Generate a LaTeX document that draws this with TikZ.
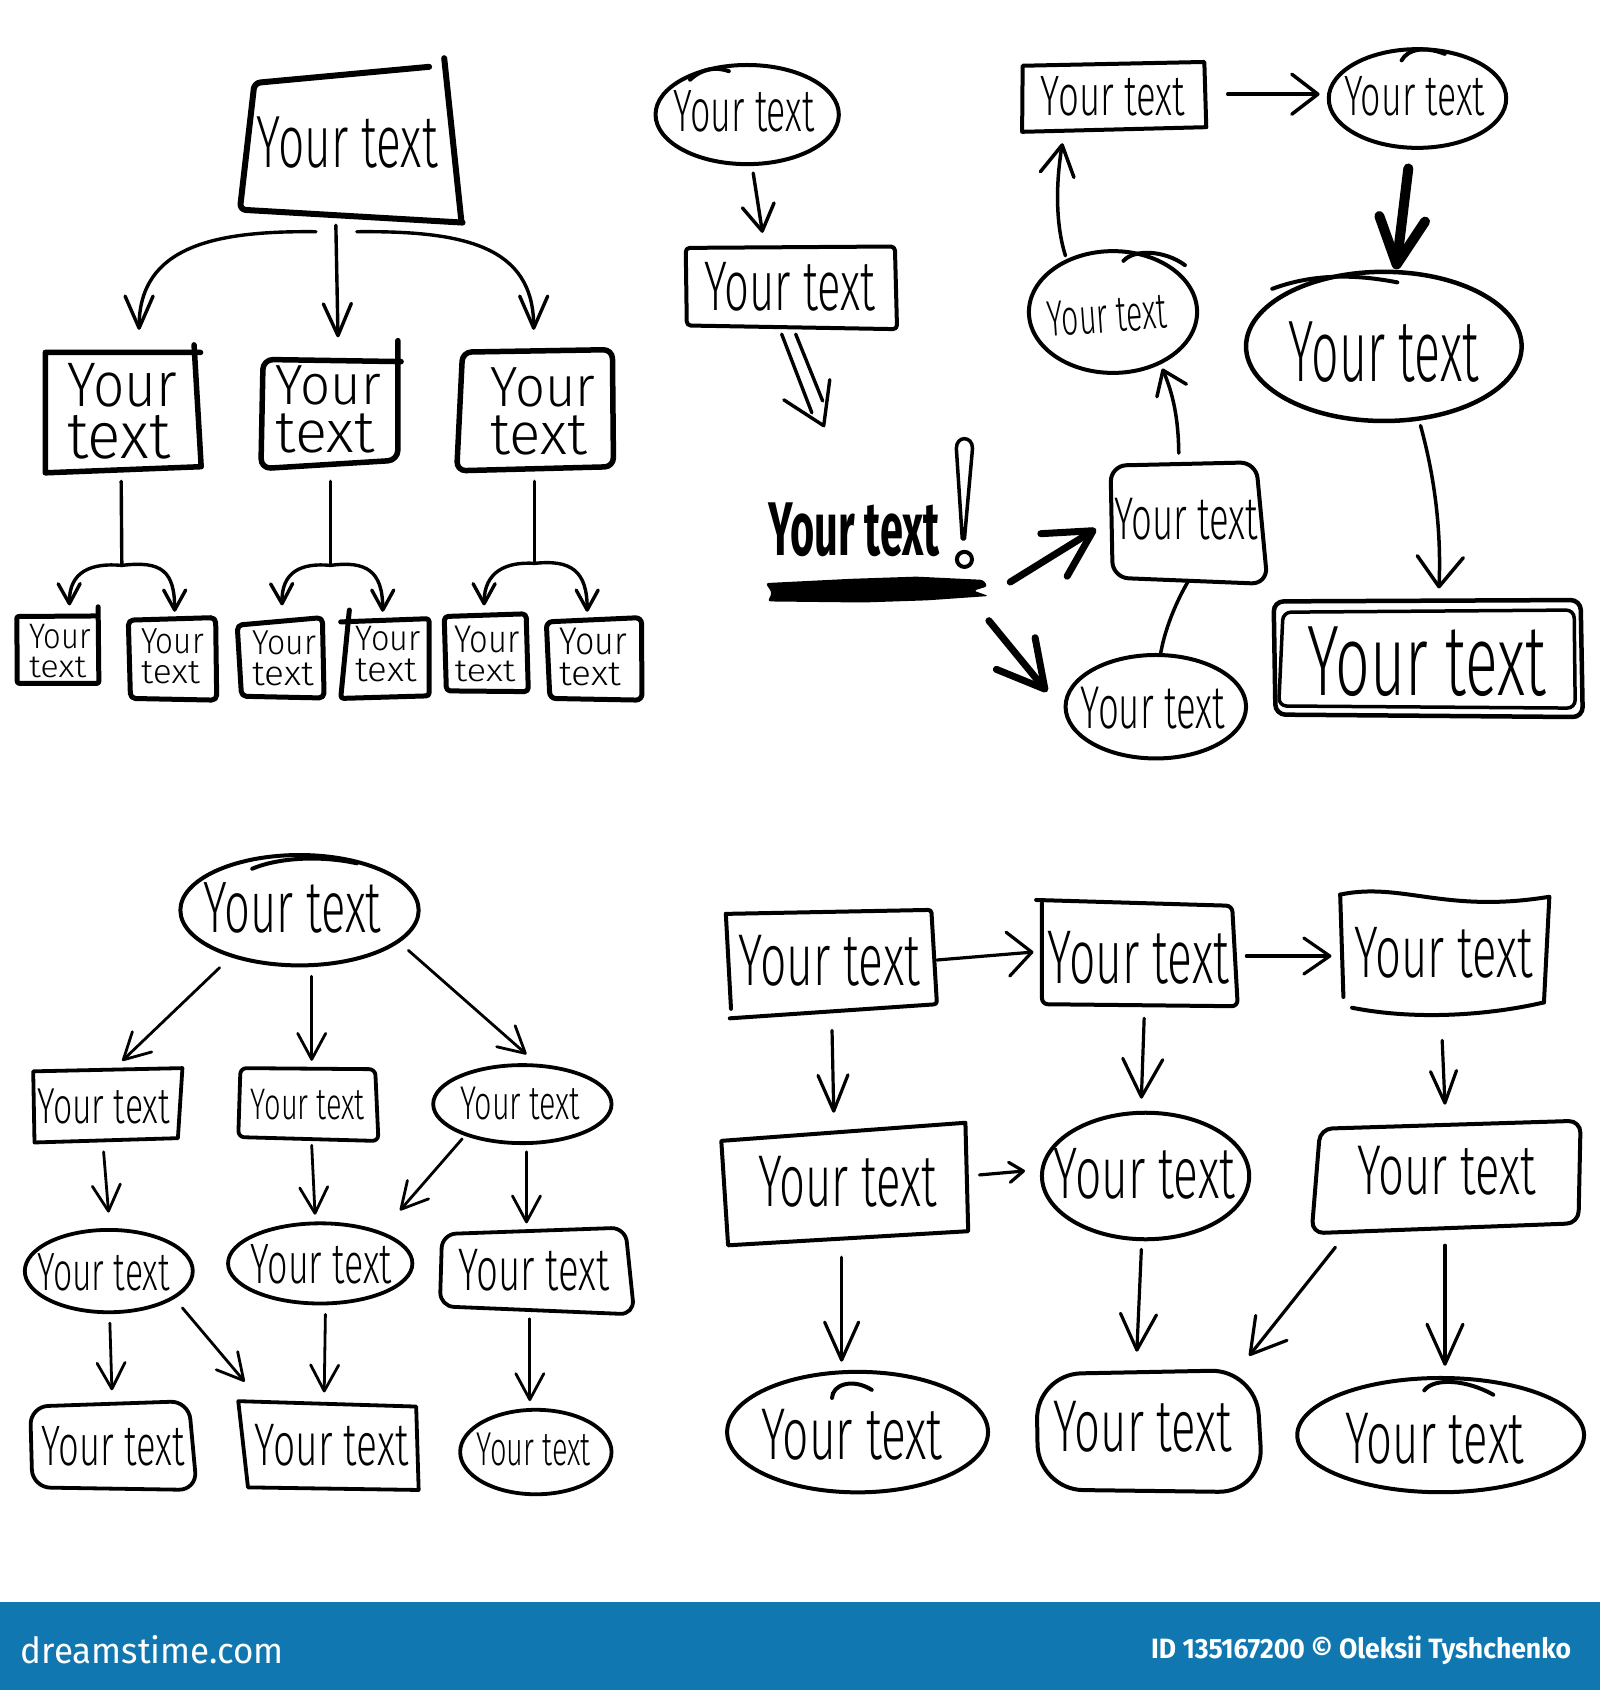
\documentclass[tikz,border=0pt]{standalone}
\usepackage{fontspec}
\usepackage{graphicx}
\usetikzlibrary{arrows.meta}
\IfFontExistsTF{Fira Sans Light}{\newfontfamily\hand{Fira Sans Light}}{\newfontfamily\hand{Fira Sans}}
\newfontfamily\footf{Fira Sans}
\definecolor{footblue}{RGB}{17,119,176}
\newdimen\unitpx \unitpx=1.078pt
\newcommand\lab[6]{\node[txt] (#1) at ({(#3+#5)/2},{(#4+#6)/2}) {\resizebox{\dimexpr#5\unitpx-#3\unitpx\relax}{\dimexpr#6\unitpx-#4\unitpx\relax}{#2}};}
\newcommand\yt[5]{\lab{#1}{Your text}{#2}{#3}{#4}{#5}}
\newcommand\twol[8]{\node[txt, anchor=north west] (#1) at (#2,#3) {\vbox{\offinterlineskip
  \hbox{\resizebox{\dimexpr#4\unitpx-#2\unitpx\relax}{\dimexpr#5\unitpx-#3\unitpx\relax}{Your}}%
  \kern\dimexpr#7\unitpx-#5\unitpx\relax
  \hbox{\resizebox{\dimexpr#6\unitpx-#2\unitpx\relax}{\dimexpr#8\unitpx-#7\unitpx\relax}{text}}}};}
\newcommand\cn[4]{\coordinate (#2s) at (#3); \coordinate (#2e) at (#4); \draw[#1] (#2s) -- (#2e);}
\newcommand\cc[6]{\coordinate (#2s) at (#3); \coordinate (#2e) at (#6); \draw[#1] (#2s) .. controls (#4) and (#5) .. (#2e);}
\tikzset{
  txt/.style={inner sep=0pt, outer sep=0pt, font=\hand},
  sk/.style={line width=#1, line cap=round, line join=round},
  hd/.style 2 args={-{Straight Barb[length=#1,width=#2,round]}},
}
\begin{document}
\begin{tikzpicture}[x=1.078167pt,y=-1.077806pt]
\useasboundingbox (0,0) rectangle (1484,1568);
\fill[white] (0,0) rectangle (1484,1568);

% ================= top-left =================
\draw[sk=6pt, rounded corners=6pt] (398,62) -- (236,77) -- (222.5,194.5) -- (429,206.5);
\draw[sk=6pt] (412,54) -- (428,206);
\yt{t0}{238}{109}{406}{156}
\cc{sk=3.4pt,hd={32pt}{28pt}}{ta}{293,215}{200,214}{129,228}{129,306}
\cn{sk=3.4pt,hd={32pt}{28pt}}{tb}{311.5,209}{313.5,313}
\cc{sk=3.4pt,hd={32pt}{28pt}}{tc}{331,215}{430,214}{495,228}{495,306}

\draw[sk=5.5pt] (186,327) -- (42,327) -- (42,438.7) -- (186.6,433) -- (180,320);
\draw[sk=5.5pt, rounded corners=10pt] (372,335.5) -- (244,333.5) -- (242,434.8) -- (369,427) -- (369,316);
\draw[sk=5.5pt, rounded corners=9pt] (429,326.7) -- (568,324.4) -- (569,433) -- (423.6,436.8) -- cycle;
\twol{b1}{62.5}{337}{164}{377}{158}{385}{425}
\twol{b2}{255.7}{339}{353}{375}{347.5}{383}{419}
\twol{b3}{455}{341}{552}{377}{544.6}{385}{421}

\cn{sk=3.4pt}{s1}{112.4,446.6}{113,524.6}
\cc{sk=3.4pt,hd={20pt}{22pt}}{s1l}{113,524.6}{85,522}{64,530}{64.4,561.7}
\cc{sk=3.4pt,hd={20pt}{22pt}}{s1r}{113,524.6}{150,520}{162,530}{162,567.6}
\cn{sk=3.4pt}{s2}{306.5,446.6}{306.5,524.6}
\cc{sk=3.4pt,hd={20pt}{22pt}}{s2l}{306.5,524.6}{280,522}{261,530}{261.6,561.7}
\cc{sk=3.4pt,hd={20pt}{22pt}}{s2r}{306.5,524.6}{340,520}{355,530}{355,567.6}
\cn{sk=3.4pt}{s3}{495.8,446.6}{495.8,522.7}
\cc{sk=3.4pt,hd={20pt}{22pt}}{s3l}{495.8,522.7}{470,521}{449,530}{449,561.7}
\cc{sk=3.4pt,hd={20pt}{22pt}}{s3r}{495.8,522.7}{530,519}{544.6,530}{544.6,567.6}

\draw[sk=5pt, rounded corners=2pt] (88,571.5) -- (15.6,572) -- (16,634) -- (91.7,634) -- (91,563);
\draw[sk=5pt, rounded corners=5pt] (119,575.4) -- (200,573) -- (201,649.6) -- (121,648) -- cycle;
\draw[sk=5pt, rounded corners=5pt] (220,580) -- (299,573) -- (300.6,647.6) -- (224,646) -- cycle;
\draw[sk=5pt, rounded corners=3pt] (324,566) -- (316,648) -- (398,645.6) -- (398,574) -- (316,577);
\draw[sk=5pt, rounded corners=4pt] (412,572) -- (488,569.5) -- (490,641.7) -- (414,641) -- cycle;
\draw[sk=5pt, rounded corners=6pt] (506.7,577) -- (595,573) -- (595.4,649.6) -- (510,648) -- cycle;
\twol{l1}{27}{579}{84}{601.5}{80}{609}{628}
\twol{l2}{131}{583}{189}{606}{185.4}{613.5}{634}
\twol{l3}{234}{585}{293}{607}{291}{615}{636}
\twol{l4}{330}{581}{390}{603.5}{386.5}{611}{632}
\twol{l5}{421.6}{581}{482}{605.5}{478}{613}{632}
\twol{l6}{519}{583}{581.7}{607.5}{576}{615}{636}

% ================= top-right =================
\draw[sk=4pt] (693,106.3) ellipse [x radius=85, y radius=46];
\draw[sk=4pt] (640,74) .. controls (652,63) and (664,62) .. (676,66);
\yt{e1}{624.8}{84}{755.4}{122}
\cn{sk=3.4pt,hd={26pt}{32pt}}{a1}{698.6,160.6}{707.2,216}
\draw[sk=4pt, rounded corners=4pt] (636,230) -- (830,228.7) -- (832,305.4) -- (637,302) -- cycle;
\yt{r1}{653}{243.7}{812}{288.4}
\coordinate (a2t) at (764,395);
\cn{sk=3.4pt}{a2p}{725,310}{753,383}
\cn{sk=3.4pt}{a2q}{738,310}{763,372}
\coordinate (a2l) at (727,371); \coordinate (a2r) at (769.6,352.3);
\draw[sk=3.4pt] (a2l) -- (a2t) -- (a2r);

\node[inner sep=0pt, font=\footf\bfseries] (bold) at ({(712.8+871.8)/2},{(467.3+516.2)/2})
  {\resizebox{\dimexpr871.8\unitpx-712.8\unitpx\relax}{\dimexpr516.2\unitpx-467.3\unitpx\relax}{Your text}};
\draw[sk=3.5pt] (887,416) .. controls (887,404) and (902,404) .. (902,416) -- (894.5,500) -- (892.5,500) -- cycle;
\draw[sk=4pt] (894.5,519) circle [radius=7];
\fill[rounded corners=3pt] (710,541) -- (790,537) -- (850,535) -- (912,538) -- (916,544) -- (903,548) -- (917,553) -- (860,557) -- (800,559) -- (712,558) -- (716,550) -- cycle;
\cn{sk=7pt,hd={46pt}{50pt}}{a3}{937,540}{1016.6,490.7}
\cn{sk=7pt,hd={46pt}{50pt}}{a4}{917.2,575.9}{971.2,641.9}

\draw[sk=4pt, rounded corners=16pt] (1030,432) -- (1165,428.9) -- (1175.6,541.8) -- (1032,536) -- cycle;
\yt{r2}{1033.6}{463}{1167}{501.3}
\cc{sk=3.5pt}{l23}{1101.8,539.7}{1090,560}{1080,585}{1076.2,607.8}
\draw[sk=4pt] (1072,655.7) ellipse [x radius=83.7, y radius=48];
\yt{e3}{1002.4}{637.6}{1136}{676}
\cc{sk=3.5pt,hd={22pt}{32pt}}{a5}{1093.3,420.4}{1093,395}{1090,370}{1078,342}
\draw[sk=4pt] (1032.3,289.5) ellipse [x radius=78, y radius=56.5];
\draw[sk=4pt] (1042,242) .. controls (1052,231) and (1080,232) .. (1099,246);
\node[txt, rotate=4] (e2) at ({(971.2+1081.9)/2},{(275.6+309.7)/2}) {\resizebox{\dimexpr110.7\unitpx\relax}{\dimexpr32\unitpx\relax}{Your text}};
\cc{sk=3.5pt,hd={30pt}{34pt}}{a6}{988.2,237.3}{978,205}{980,165}{985.4,132.9}
\draw[sk=4pt] (948.5,61) -- (1117,57.5) -- (1118.8,118) -- (948,122.3) -- cycle;
\yt{r3}{965.5}{71.2}{1099}{107.4}
\cn{sk=3.5pt,hd={26pt}{40pt}}{a7}{1138.7,87.4}{1223.9,87.4}
\draw[sk=4pt] (1314.7,91.4) ellipse [x radius=82.3, y radius=45.8];
\draw[sk=4pt] (1300,56) .. controls (1306,45) and (1322,43) .. (1340,50);
\yt{e4}{1246.6}{71.2}{1377}{107.4}
\cn{sk=10pt,hd={46pt}{46pt}}{a8}{1306.2,156.3}{1294.8,250}
\draw[sk=4.5pt] (1283.5,321.4) ellipse [x radius=127.8, y radius=69.2];
\draw[sk=4pt] (1180,268) .. controls (1220,253) and (1260,255) .. (1296,262);
\yt{e5}{1195.5}{299}{1371.5}{354.4}
\cc{sk=3.5pt,hd={30pt}{46pt}}{a9}{1317.5,394.8}{1330,440}{1337,490}{1334.6,546}
\draw[sk=4.5pt, rounded corners=10pt] (1181.3,558) -- (1466,556.7) -- (1468,665.3) -- (1183,663) -- cycle;
\draw[sk=3.5pt, rounded corners=8pt] (1190,568) -- (1460,566) -- (1461,657) -- (1186,655) -- cycle;
\yt{r4}{1212.5}{582.3}{1434}{646}

% ================= bottom-left =================
\draw[sk=4pt] (277.8,844.5) ellipse [x radius=110.5, y radius=51.2];
\draw[sk=4pt] (234,806) .. controls (260,795) and (300,794) .. (331,801);
\yt{te}{188.4}{819.3}{353.7}{865.6}
\cn{sk=2.8pt,hd={26pt}{28pt}}{ba}{203.8,897.7}{113.4,984.2}
\cn{sk=2.8pt,hd={26pt}{28pt}}{bb}{289.1,905.8}{289.1,984.2}
\cn{sk=2.8pt,hd={26pt}{28pt}}{bc}{378.7,881.7}{488.3,978.2}
\draw[sk=3.8pt] (30.8,994) -- (169.2,991) -- (165,1056) -- (32,1060) -- cycle;
\yt{ra}{34.6}{1010.4}{157.6}{1042.5}
\draw[sk=3.8pt, rounded corners=6pt] (223,991) -- (348,992) -- (351,1058.6) -- (221,1055) -- cycle;
\yt{rb}{232.6}{1010.4}{338.4}{1038.5}
\draw[sk=3.8pt] (484.5,1024.4) ellipse [x radius=82.7, y radius=36.2];
\yt{ec}{426.8}{1008.4}{538.3}{1038.5}
\cn{sk=2.8pt,hd={26pt}{28pt}}{bd}{96.1,1068.7}{100.7,1125}
\cn{sk=2.8pt,hd={26pt}{28pt}}{be}{289.1,1062.6}{292.2,1127}
\cn{sk=2.8pt,hd={26pt}{28pt}}{bf}{428.7,1056.6}{371,1123}
\cn{sk=2.8pt,hd={26pt}{28pt}}{bg}{488.3,1068.7}{488.3,1135}
\draw[sk=3.8pt] (100.9,1179.3) ellipse [x radius=77.9, y radius=38.2];
\yt{ed}{34.6}{1163.2}{157.6}{1197.4}
\draw[sk=3.8pt] (297,1172.2) ellipse [x radius=85.5, y radius=37.2];
\yt{ee}{232.6}{1155.2}{363.4}{1191.4}
\draw[sk=3.8pt, rounded corners=14pt] (410,1145) -- (580,1139) -- (588.3,1219.5) -- (408,1212) -- cycle;
\yt{rf}{424.9}{1159.2}{565.2}{1197.4}
\cn{sk=2.8pt,hd={26pt}{28pt}}{bh}{101.9,1227.6}{103.8,1289.9}
\cn{sk=2.8pt,hd={26pt}{28pt}}{bi}{169.2,1213.5}{226.9,1281.9}
\cn{sk=2.8pt,hd={26pt}{28pt}}{bj}{301.8,1219.5}{300.7,1291.9}
\cn{sk=2.8pt,hd={26pt}{28pt}}{bk}{491.4,1223.5}{491.4,1299.9}
\draw[sk=3.8pt, rounded corners=18pt] (28,1305) -- (175,1300) -- (182.6,1382.4) -- (30,1380) -- cycle;
\yt{rg}{38.5}{1324.1}{171.1}{1360.3}
\draw[sk=3.8pt] (221,1300) -- (386,1305) -- (388.3,1382.4) -- (230,1380) -- cycle;
\yt{rh}{236.5}{1322.1}{378.7}{1360.3}
\draw[sk=3.8pt] (497,1347.2) ellipse [x radius=70.2, y radius=39.2];
\yt{ei}{442.2}{1330.1}{547.9}{1360.3}

% ================= bottom-right =================
\draw[sk=4pt, rounded corners=3pt] (673.2,847.9) -- (863.8,844.2) -- (869,931.7) -- (676.9,944.8);
\draw[sk=4pt] (673.2,847.9) -- (678,936);
\yt{p1}{684.8}{868.4}{853.3}{915}
\draw[sk=4pt, rounded corners=6pt] (961,835) -- (1142.8,840.4) -- (1148,933.6) -- (966.4,931.7) -- (966.4,838);
\yt{p2}{971.7}{864.7}{1140.2}{913.1}
\draw[sk=4pt] (1243,830) .. controls (1300,818) and (1340,848) .. (1437,832) -- (1432,930);
\draw[sk=4pt] (1243,830) -- (1246,925);
\draw[sk=4pt] (1254,935) .. controls (1320,948) and (1390,940) .. (1432,930);
\yt{p3}{1256}{861}{1421.8}{907.5}
\cn{sk=3.2pt,hd={24pt}{44pt}}{pa}{869,890.7}{958.5,883.3}
\cn{sk=3.2pt,hd={26pt}{36pt}}{pb}{1156,887}{1234.9,887}
\cn{sk=3.2pt,hd={36pt}{30pt}}{pc}{771.7,956}{773.3,1032.4}
\cn{sk=3.2pt,hd={38pt}{40pt}}{pd}{1061.2,944.8}{1058.6,1019.3}
\cn{sk=3.2pt,hd={32pt}{26pt}}{pe}{1337.6,965.3}{1340.2,1024.9}
\draw[sk=4pt] (669,1058.5) -- (895.4,1041.7) -- (898,1142.3) -- (675.3,1155.4) -- cycle;
\yt{q1}{703.2}{1073.4}{869.1}{1120}
\cn{sk=3.2pt,hd={14pt}{20pt}}{qa}{908.5,1090.1}{950.7,1086.4}
\draw[sk=4pt] (1062.5,1091.1) ellipse [x radius=96.1, y radius=58.7];
\yt{q2}{977}{1066}{1145.4}{1112.5}
\draw[sk=4pt, rounded corners=12pt] (1224.4,1047.3) -- (1466,1039.8) -- (1464,1134.9) -- (1216.5,1144.2) -- cycle;
\yt{q3}{1258.6}{1064}{1424.4}{1108.8}
\cn{sk=3.2pt,hd={38pt}{34pt}}{qb}{780.6,1166.5}{780.6,1263.4}
\cn{sk=3.2pt,hd={36pt}{36pt}}{qc}{1058.6,1159.1}{1054.4,1254.1}
\cn{sk=3.2pt,hd={34pt}{40pt}}{qd}{1238.6,1157.2}{1158.6,1257.9}
\cn{sk=3.2pt,hd={40pt}{36pt}}{qe}{1340.2,1155.4}{1340.2,1267.2}
\draw[sk=4pt] (795.4,1328.7) ellipse [x radius=121, y radius=55.9];
\draw[sk=4pt] (771.7,1297) .. controls (772,1285) and (790,1278) .. (808.5,1289.5);
\yt{s1}{705.9}{1308.2}{874.3}{1354.8}
\draw[sk=4pt, rounded corners=45pt] (961.2,1275) -- (1165,1271) -- (1171.7,1384.6) -- (963,1382) -- cycle;
\yt{s2}{977}{1300.7}{1142.8}{1347.3}
\draw[sk=4pt] (1336.2,1331.5) ellipse [x radius=133, y radius=53];
\draw[sk=4pt] (1321,1290) .. controls (1330,1278) and (1360,1280) .. (1385,1294);
\yt{s3}{1248}{1311.9}{1413.9}{1358.5}

% ================= footer =================
\fill[footblue] (0,1486) rectangle (1484,1568);
\node[inner sep=0pt, anchor=base west, text=white, font=\footf] (ftl) at (19,1543)
  {\resizebox{\dimexpr244\unitpx\relax}{\dimexpr26\unitpx\relax}{dreamstime.com}};
\node[inner sep=0pt, anchor=base west, text=white, font=\footf\bfseries] (ftr) at (1067.5,1539)
  {\resizebox{\dimexpr389.5\unitpx\relax}{\dimexpr21\unitpx\relax}{ID 135167200 © Oleksii Tyshchenko}};
\end{tikzpicture}
\end{document}
